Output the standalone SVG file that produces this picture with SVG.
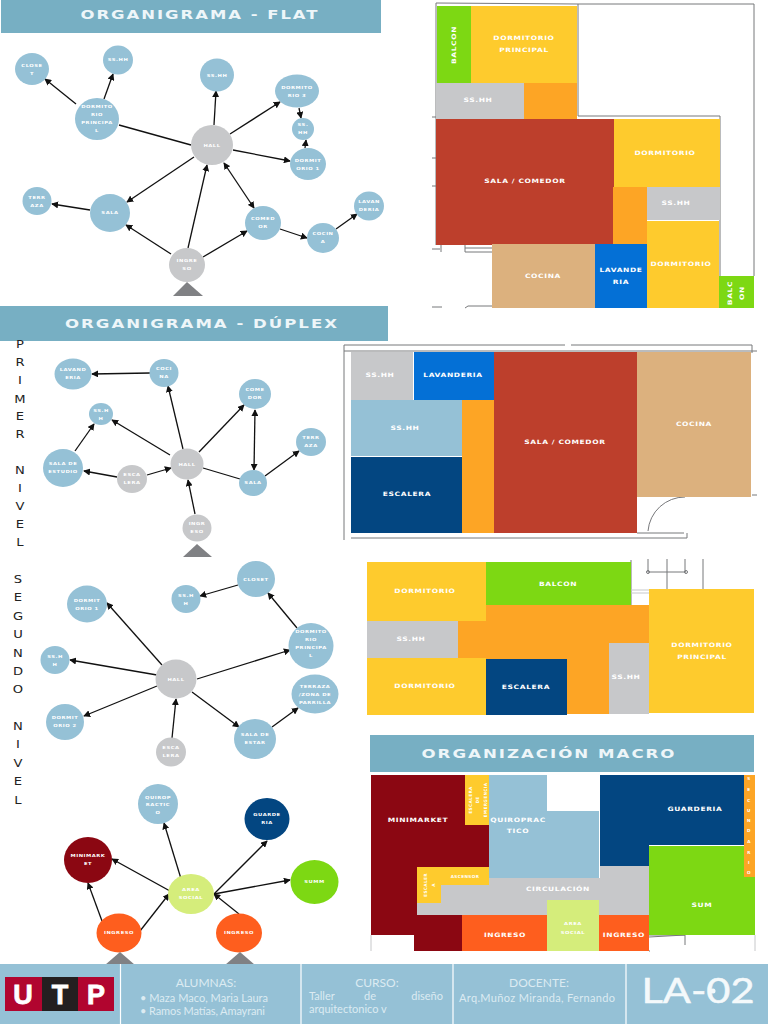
<svg xmlns="http://www.w3.org/2000/svg" width="768" height="1024" viewBox="0 0 768 1024">
<defs>
<marker id="a" viewBox="0 0 8 8" refX="7" refY="4" markerWidth="7" markerHeight="7" markerUnits="userSpaceOnUse" orient="auto-start-reverse"><path d="M0 0L8 4L0 8z" fill="#111"/></marker>
</defs>
<style>
text{font-family:"DejaVu Sans","Liberation Sans",sans-serif;text-anchor:middle;fill:#fff}
.n{font-size:4.2px;letter-spacing:.4px;font-weight:700}
.r{font-size:6px;letter-spacing:.5px;font-weight:700}
text.n,text.r,.v text{transform-box:fill-box;transform-origin:center;transform:scaleX(1.25)}
.t{font-size:12.500px;letter-spacing:1.500px;fill:#eef6f9;font-weight:700}
.v text{font-size:10.500px;fill:#222}
.b{fill:#95c1d6}.g{fill:#c7c8ca}.y{fill:#fecb2d}.o{fill:#fda525}.gn{fill:#7dd813}.rd{fill:#bd3f2c}.tn{fill:#dcb17e}.bl{fill:#0470d6}.nv{fill:#034681}.mr{fill:#8b0712}.or{fill:#fe5e1e}.lm{fill:#d5ed7b}
.h{fill:#77afc3}.tri{fill:#808184}
.c line{stroke:#111;stroke-width:1.3;marker-end:url(#a)}
.c line.p{marker-end:none}
.c line.d{marker-start:url(#a)}
.w{fill:none;stroke:#77787b;stroke-width:1}
.lw{fill:none;stroke:#c7c8ca;stroke-width:1}
.f{font-family:"Lato","Open Sans",sans-serif;font-size:11px;fill:#dcebf2}
.fl{text-anchor:start}
</style>
<g id="plan-flat">
<path class="w" d="M436 245V3L578 4H754V276M578 4V116H720V276M432 117H436M432 158H436M432 186H436M432 249H440M441 245V252M465 245V252H492M465 248H492M432 307H442M465 308L468 306H492"/>
<rect class="gn" x="437" y="6" width="34" height="78"/>
<rect class="y" x="471" y="6" width="106" height="77"/>
<rect class="g" x="436" y="83" width="88" height="36"/>
<rect class="o" x="524" y="83" width="53" height="36"/>
<rect class="rd" x="436" y="119" width="178" height="126"/>
<rect class="y" x="614" y="119" width="106" height="68"/>
<rect class="o" x="613" y="187" width="34" height="57"/>
<rect class="g" x="647" y="187" width="73" height="33"/>
<rect class="y" x="647" y="221" width="72" height="87"/>
<rect class="tn" x="492" y="244" width="103" height="64"/>
<rect class="bl" x="595" y="244" width="52" height="64"/>
<rect class="gn" x="719" y="276" width="35" height="32"/>
<g transform="translate(456,45) rotate(-90)"><text class="r">BALCON</text></g>
<text class="r" x="524" y="40">DORMITORIO</text><text class="r" x="524" y="52">PRINCIPAL</text>
<text class="r" x="478" y="102">SS.HH</text>
<text class="r" x="525" y="183">SALA / COMEDOR</text>
<text class="r" x="665" y="155">DORMITORIO</text>
<text class="r" x="676" y="205">SS.HH</text>
<text class="r" x="681" y="266">DORMITORIO</text>
<text class="r" x="543" y="278">COCINA</text>
<text class="r" x="621" y="272">LAVANDE</text><text class="r" x="621" y="284">RIA</text>
<g transform="translate(732,293) rotate(-90)"><text class="r">BALC</text></g>
<g transform="translate(744,293) rotate(-90)"><text class="r">ON</text></g>
</g>
<g id="plan-duplex-1">
<path class="w" d="M344 540V345H565M571 345H752M344 351H752M752 345V353M752 351H757M752 495H757M351 538H687V533M637 533H684M648 531A37 37 0 0 1 685 497"/>
<rect class="g" x="351" y="352" width="62" height="48"/>
<rect class="bl" x="414" y="352" width="80" height="48"/>
<rect class="b" x="351" y="400" width="111" height="56"/>
<rect class="nv" x="351" y="457" width="111" height="76"/>
<rect class="o" x="462" y="400" width="32" height="133"/>
<rect class="rd" x="494" y="352" width="143" height="181"/>
<rect class="tn" x="637" y="352" width="114" height="145"/>
<text class="r" x="380" y="377">SS.HH</text>
<text class="r" x="453" y="377">LAVANDERIA</text>
<text class="r" x="405" y="430">SS.HH</text>
<text class="r" x="407" y="496">ESCALERA</text>
<text class="r" x="565" y="444">SALA / COMEDOR</text>
<text class="r" x="694" y="426">COCINA</text>
</g>
<g id="plan-duplex-2">
<path class="w" d="M631 560V605M667 559V589M703 559V589M648 572H686M648 559V572M685 559V572"/>
<path class="lw" d="M631 590H649M631 593H649"/>
<circle cx="648" cy="572" r="1.500" fill="none" stroke="#77787b"/><circle cx="686" cy="572" r="1.500" fill="none" stroke="#77787b"/>
<rect class="y" x="367" y="562" width="119" height="59"/>
<rect class="gn" x="486" y="562" width="145" height="43"/>
<rect class="g" x="367" y="621" width="91" height="37"/>
<path class="o" d="M486 605H649V643H609V714H567V659H458V621H486z"/>
<rect class="y" x="367" y="658" width="119" height="57"/>
<rect class="nv" x="486" y="659" width="81" height="56"/>
<rect class="g" x="609" y="643" width="40" height="71"/>
<rect class="y" x="649" y="589" width="105" height="124"/>
<text class="r" x="425" y="593">DORMITORIO</text>
<text class="r" x="558" y="586">BALCON</text>
<text class="r" x="411" y="641">SS.HH</text>
<text class="r" x="425" y="688">DORMITORIO</text>
<text class="r" x="526" y="689">ESCALERA</text>
<text class="r" x="626" y="679">SS.HH</text>
<text class="r" x="702" y="647">DORMITORIO</text><text class="r" x="702" y="659">PRINCIPAL</text>
</g>
<g id="plan-macro">
<path class="w" d="M649 935H685V945M649 937L685 935M649 951H650"/>
<path class="lw" d="M371 935V951M755 935V951"/>
<path class="mr" d="M371 775H465V825H489V867H417V915H462V951H414V935H371z"/>
<rect class="y" x="465" y="775" width="25" height="50"/>
<path class="b" d="M489 775H547V811H599V878H489z"/>
<path class="nv" d="M600 775H744V845H649V866H600z"/>
<rect class="o" x="744" y="775" width="11" height="102"/>
<path class="gn" d="M649 846H744V877H755V935H649z"/>
<path class="g" d="M489 878H600V866H649V915H417V903H441V885H489z"/>
<path class="y" d="M417 867H489V885H441V903H417z"/>
<rect class="or" x="462" y="915" width="85" height="36"/>
<rect class="lm" x="547" y="900" width="52" height="51"/>
<rect class="or" x="599" y="915" width="50" height="36"/>
<text class="r" x="418" y="822">MINIMARKET</text>
<g class="n"><text transform="translate(472,800) rotate(-90)">ESCALERA</text><text transform="translate(479,800) rotate(-90)">DE</text><text transform="translate(487,800) rotate(-90)">EMERGENCIA</text></g>
<text class="r" x="518" y="822">QUIROPRAC</text><text class="r" x="518" y="833">TICO</text>
<text class="r" x="695" y="811">GUARDERIA</text>
<text class="r" x="702" y="907">SUM</text>
<text class="r" x="558" y="891">CIRCULACIÓN</text>
<g class="n"><text x="465" y="878">ASCENSOR</text><text transform="translate(427,885) rotate(-90)">ESCALER</text><text transform="translate(435,885) rotate(-90)">A</text></g>
<text class="r" x="505" y="937">INGRESO</text>
<text class="n" x="573" y="925">AREA</text><text class="n" x="573" y="934">SOCIAL</text>
<text class="r" x="624" y="937">INGRESO</text>
<g class="n"><text x="749" y="780">S</text><text x="749" y="791">E</text><text x="749" y="802">C</text><text x="749" y="812">U</text><text x="749" y="822">N</text><text x="749" y="832">D</text><text x="749" y="843">A</text><text x="749" y="854">R</text><text x="749" y="864">I</text><text x="749" y="874">O</text></g>
</g>
<g id="headers">
<rect class="h" x="1" y="0" width="380" height="33"/>
<text class="t" x="200" y="19" textLength="239" lengthAdjust="spacingAndGlyphs">ORGANIGRAMA - FLAT</text>
<rect class="h" x="0" y="306" width="388" height="35"/>
<text class="t" x="202" y="327.500" textLength="274" lengthAdjust="spacingAndGlyphs">ORGANIGRAMA - DÚPLEX</text>
<rect class="h" x="370" y="735" width="384" height="37"/>
<text class="t" x="549" y="758" textLength="255" lengthAdjust="spacingAndGlyphs">ORGANIZACIÓN MACRO</text>
</g>
<g id="level-labels" class="v">
<text x="20" y="348">P</text><text x="20" y="366">R</text><text x="20" y="384">I</text><text x="20" y="403">M</text><text x="20" y="420">E</text><text x="20" y="438">R</text><text x="20" y="474">N</text><text x="20" y="492">I</text><text x="20" y="510">V</text><text x="20" y="528">E</text><text x="20" y="546">L</text>
<text x="18" y="583">S</text><text x="18" y="601">E</text><text x="18" y="620">G</text><text x="18" y="638">U</text><text x="18" y="657">N</text><text x="18" y="675">D</text><text x="18" y="693">O</text><text x="18" y="730">N</text><text x="18" y="748">I</text><text x="18" y="767">V</text><text x="18" y="785">E</text><text x="18" y="804">L</text>
</g>
<g id="connectors" class="c">
<line x1="76" y1="104" x2="45" y2="79"/><line x1="104" y1="99" x2="113" y2="74"/><line class="p" x1="119" y1="125" x2="191" y2="145"/>
<line x1="214" y1="125" x2="216" y2="91"/><line x1="230" y1="134" x2="280" y2="102"/><line x1="299" y1="108" x2="301" y2="118"/>
<line x1="305" y1="148" x2="306" y2="140"/><line x1="233" y1="150" x2="290" y2="161"/><line x1="194" y1="157" x2="127" y2="202"/>
<line x1="188" y1="248" x2="207" y2="165"/><line x1="171" y1="254" x2="126" y2="225"/><line x1="203" y1="257" x2="247" y2="231"/>
<line class="d" x1="224" y1="163" x2="254" y2="208"/><line x1="90" y1="210" x2="52" y2="204"/><line x1="280" y1="229" x2="307" y2="238"/><line x1="336" y1="229" x2="357" y2="214"/>
<line x1="150" y1="373" x2="92" y2="374"/><line x1="183" y1="449" x2="168" y2="386"/><line x1="199" y1="452" x2="244" y2="405"/>
<line class="d" x1="255" y1="410" x2="254" y2="470"/><line x1="265" y1="476" x2="299" y2="451"/><line class="p" x1="203" y1="468" x2="240" y2="479"/>
<line x1="170" y1="455" x2="112" y2="420"/><line x1="75" y1="451" x2="94" y2="424"/><line x1="117" y1="477" x2="84" y2="471"/><line x1="147" y1="475" x2="171" y2="468"/><line x1="195" y1="514" x2="188" y2="480"/>
<line x1="238" y1="585" x2="200" y2="596"/><line x1="297" y1="628" x2="268" y2="593"/><line x1="162" y1="665" x2="107" y2="603"/><line x1="157" y1="675" x2="70" y2="660"/>
<line x1="157" y1="686" x2="84" y2="716"/><line x1="197" y1="679" x2="290" y2="650"/><line x1="192" y1="692" x2="239" y2="727"/><line x1="272" y1="727" x2="298" y2="708"/><line x1="172" y1="738" x2="176" y2="699"/>
<line x1="182" y1="882" x2="164" y2="823"/><line x1="170" y1="891" x2="112" y2="859"/><line x1="102" y1="921" x2="88" y2="883"/><line x1="140" y1="931" x2="169" y2="894"/>
<line x1="239" y1="914" x2="214" y2="894"/><line x1="214" y1="894" x2="267" y2="841"/><line x1="214" y1="894" x2="290" y2="880"/>
</g>
<g id="flat-closet"><ellipse class="b" cx="32" cy="69" rx="17" ry="16"/><text class="n" x="32" y="67">CLOSE</text><text class="n" x="32" y="75">T</text></g>
<g id="flat-sshh-1"><ellipse class="b" cx="118" cy="60" rx="15" ry="14.500"/><text class="n" x="118" y="61">SS.HH</text></g>
<g id="flat-dorm-principal"><ellipse class="b" cx="97" cy="119" rx="22" ry="21"/><text class="n" x="97" y="108">DORMITO</text><text class="n" x="97" y="116">RIO</text><text class="n" x="97" y="124">PRINCIPA</text><text class="n" x="97" y="132">L</text></g>
<g id="flat-hall"><ellipse class="g" cx="212" cy="145" rx="21" ry="20"/><text class="n" x="212" y="147">HALL</text></g>
<g id="flat-sshh-2"><ellipse class="b" cx="217" cy="75" rx="17" ry="16.500"/><text class="n" x="217" y="77">SS.HH</text></g>
<g id="flat-dorm-3"><ellipse class="b" cx="297" cy="91" rx="22" ry="16.500"/><text class="n" x="297" y="89">DORMITO</text><text class="n" x="297" y="97">RIO 3</text></g>
<g id="flat-sshh-3"><ellipse class="b" cx="303" cy="129" rx="11" ry="11"/><text class="n" x="303" y="126">SS.</text><text class="n" x="303" y="134">HH</text></g>
<g id="flat-dorm-1"><ellipse class="b" cx="308" cy="164" rx="18" ry="16"/><text class="n" x="308" y="162">DORMIT</text><text class="n" x="308" y="170">ORIO 1</text></g>
<g id="flat-sala"><ellipse class="b" cx="110" cy="213" rx="20" ry="19"/><text class="n" x="110" y="214">SALA</text></g>
<g id="flat-terraza"><ellipse class="b" cx="37" cy="201" rx="14.500" ry="14"/><text class="n" x="37" y="199">TERR</text><text class="n" x="37" y="207">AZA</text></g>
<g id="flat-comedor"><ellipse class="b" cx="263" cy="223" rx="18" ry="17"/><text class="n" x="263" y="220">COMED</text><text class="n" x="263" y="228">OR</text></g>
<g id="flat-cocina"><ellipse class="b" cx="323" cy="238" rx="16" ry="15"/><text class="n" x="323" y="235">COCIN</text><text class="n" x="323" y="243">A</text></g>
<g id="flat-lavanderia"><ellipse class="b" cx="369" cy="206" rx="15" ry="14.500"/><text class="n" x="369" y="203">LAVAN</text><text class="n" x="369" y="211">DERIA</text></g>
<g id="flat-ingreso"><ellipse class="g" cx="187" cy="265" rx="18" ry="17"/><text class="n" x="187" y="262">INGRE</text><text class="n" x="187" y="270">SO</text><path class="tri" d="M187 282L173 296H203z"/></g>
<g id="d1-lavanderia"><ellipse class="b" cx="73" cy="374" rx="18.500" ry="15.500"/><text class="n" x="73" y="371">LAVAND</text><text class="n" x="73" y="379">ERIA</text></g>
<g id="d1-cocina"><ellipse class="b" cx="164" cy="373" rx="14.500" ry="14"/><text class="n" x="164" y="370">COCI</text><text class="n" x="164" y="378">NA</text></g>
<g id="d1-comedor"><ellipse class="b" cx="255" cy="394" rx="16" ry="15"/><text class="n" x="255" y="391">COME</text><text class="n" x="255" y="399">DOR</text></g>
<g id="d1-sshh"><ellipse class="b" cx="101" cy="414" rx="12" ry="11"/><text class="n" x="101" y="412">SS.H</text><text class="n" x="101" y="420">H</text></g>
<g id="d1-terraza"><ellipse class="b" cx="311" cy="442" rx="15" ry="14"/><text class="n" x="311" y="439">TERR</text><text class="n" x="311" y="447">AZA</text></g>
<g id="d1-sala-estudio"><ellipse class="b" cx="63" cy="468" rx="20" ry="19"/><text class="n" x="63" y="465">SALA DE</text><text class="n" x="63" y="473">ESTUDIO</text></g>
<g id="d1-escalera"><ellipse class="g" cx="132" cy="479" rx="15" ry="14"/><text class="n" x="132" y="476">ESCA</text><text class="n" x="132" y="484">LERA</text></g>
<g id="d1-hall"><ellipse class="g" cx="187" cy="464" rx="16.500" ry="15.500"/><text class="n" x="187" y="466">HALL</text></g>
<g id="d1-sala"><ellipse class="b" cx="253" cy="483" rx="14" ry="13"/><text class="n" x="253" y="484">SALA</text></g>
<g id="d1-ingreso"><ellipse class="g" cx="197" cy="528" rx="14.500" ry="13.500"/><text class="n" x="197" y="525">INGR</text><text class="n" x="197" y="533">ESO</text><path class="tri" d="M197 544L183 557H212z"/></g>
<g id="d2-closet"><ellipse class="b" cx="256" cy="579" rx="19" ry="18"/><text class="n" x="256" y="581">CLOSET</text></g>
<g id="d2-sshh-1"><ellipse class="b" cx="186" cy="599" rx="14.500" ry="14"/><text class="n" x="186" y="597">SS.H</text><text class="n" x="186" y="605">H</text></g>
<g id="d2-dorm-1"><ellipse class="b" cx="87" cy="604" rx="20" ry="18.500"/><text class="n" x="87" y="602">DORMIT</text><text class="n" x="87" y="610">ORIO 1</text></g>
<g id="d2-dorm-principal"><ellipse class="b" cx="311" cy="646" rx="22.500" ry="23"/><text class="n" x="311" y="633">DORMITO</text><text class="n" x="311" y="641">RIO</text><text class="n" x="311" y="649">PRINCIPA</text><text class="n" x="311" y="657">L</text></g>
<g id="d2-sshh-2"><ellipse class="b" cx="55" cy="660" rx="14.500" ry="14"/><text class="n" x="55" y="658">SS.H</text><text class="n" x="55" y="666">H</text></g>
<g id="d2-hall"><ellipse class="g" cx="176" cy="679" rx="20.500" ry="19.500"/><text class="n" x="176" y="681">HALL</text></g>
<g id="d2-terraza"><ellipse class="b" cx="315" cy="694" rx="23.500" ry="19.500"/><text class="n" x="315" y="688">TERRAZA</text><text class="n" x="315" y="696">/ZONA DE</text><text class="n" x="315" y="704">PARRILLA</text></g>
<g id="d2-dorm-2"><ellipse class="b" cx="65" cy="722" rx="19" ry="18"/><text class="n" x="65" y="719">DORMIT</text><text class="n" x="65" y="727">ORIO 2</text></g>
<g id="d2-sala-estar"><ellipse class="b" cx="255" cy="739" rx="21" ry="20"/><text class="n" x="255" y="736">SALA DE</text><text class="n" x="255" y="744">ESTAR</text></g>
<g id="d2-escalera"><ellipse class="g" cx="171" cy="752" rx="15" ry="14.500"/><text class="n" x="171" y="749">ESCA</text><text class="n" x="171" y="757">LERA</text></g>
<g id="m-quiropractico"><ellipse class="b" cx="158" cy="804" rx="20" ry="20"/><text class="n" x="158" y="799">QUIROP</text><text class="n" x="158" y="806">RACTIC</text><text class="n" x="158" y="814">O</text></g>
<g id="m-guarderia"><ellipse class="nv" cx="267" cy="819" rx="22.500" ry="21"/><text class="n" x="267" y="816">GUARDE</text><text class="n" x="267" y="824">RIA</text></g>
<g id="m-minimarket"><ellipse class="mr" cx="88" cy="860" rx="24" ry="23"/><text class="n" x="88" y="857">MINIMARK</text><text class="n" x="88" y="865">ET</text></g>
<g id="m-sum"><ellipse class="gn" cx="314.500" cy="882" rx="24" ry="22"/><text class="n" x="314.500" y="883">SUMM</text></g>
<g id="m-area-social"><ellipse class="lm" cx="191" cy="894" rx="23" ry="20"/><text class="n" x="191" y="891">AREA</text><text class="n" x="191" y="899">SOCIAL</text></g>
<g id="m-ingreso-1"><ellipse class="or" cx="119" cy="933" rx="22.500" ry="19.500"/><text class="n" x="119" y="934">INGRESO</text><path class="tri" d="M120 952L105 965H135z"/></g>
<g id="m-ingreso-2"><ellipse class="or" cx="239" cy="933" rx="23" ry="19.500"/><text class="n" x="239" y="934">INGRESO</text><path class="tri" d="M240 952L225 965H255z"/></g>
<g id="footer">
<rect class="b" x="0" y="964" width="768" height="60"/>
<path d="M120.500 964V1024M301 964V1024M453 964V1024M626 964V1024" stroke="#fff" stroke-width="1.200" fill="none"/>
<rect x="5" y="977" width="109" height="34" fill="#b1052f"/>
<rect x="42" y="977" width="36" height="34" fill="#231f20"/>
<g style="font-size:27px;font-weight:700;stroke:#fff;stroke-width:.8px"><text style="font-family:'Liberation Sans',sans-serif" x="23" y="1004">U</text><text style="font-family:'Liberation Sans',sans-serif" x="60" y="1004">T</text><text style="font-family:'Liberation Sans',sans-serif" x="96" y="1004">P</text></g>
<text class="f" x="206" y="987" style="font-size:12px">ALUMNAS:</text>
<text class="f fl" x="140" y="1002" textLength="128">• Maza Maco, Maria Laura</text>
<text class="f fl" x="140" y="1015" textLength="125">• Ramos Matías, Amayrani</text>
<text class="f" x="377" y="987" style="font-size:12px">CURSO:</text>
<text class="f fl" x="309" y="1000">Taller</text><text class="f" x="370" y="1000">de</text><text class="f" x="443" y="1000" style="text-anchor:end">diseño</text>
<text class="f fl" x="309" y="1013">arquitectonico v</text>
<text class="f" x="539" y="987" style="font-size:12px">DOCENTE:</text>
<text class="f fl" x="459" y="1002" textLength="156">Arq.Muñoz Miranda, Fernando</text>
<text x="698" y="1003" textLength="113" lengthAdjust="spacingAndGlyphs" style="font-family:'Lato','Open Sans',sans-serif;font-size:35px;font-weight:400;fill:#f4f9fb;stroke:#f4f9fb;stroke-width:.5px">LA-02</text>
<circle cx="713" cy="991" r="2.500" fill="#f4f9fb"/>
</g>
</svg>
